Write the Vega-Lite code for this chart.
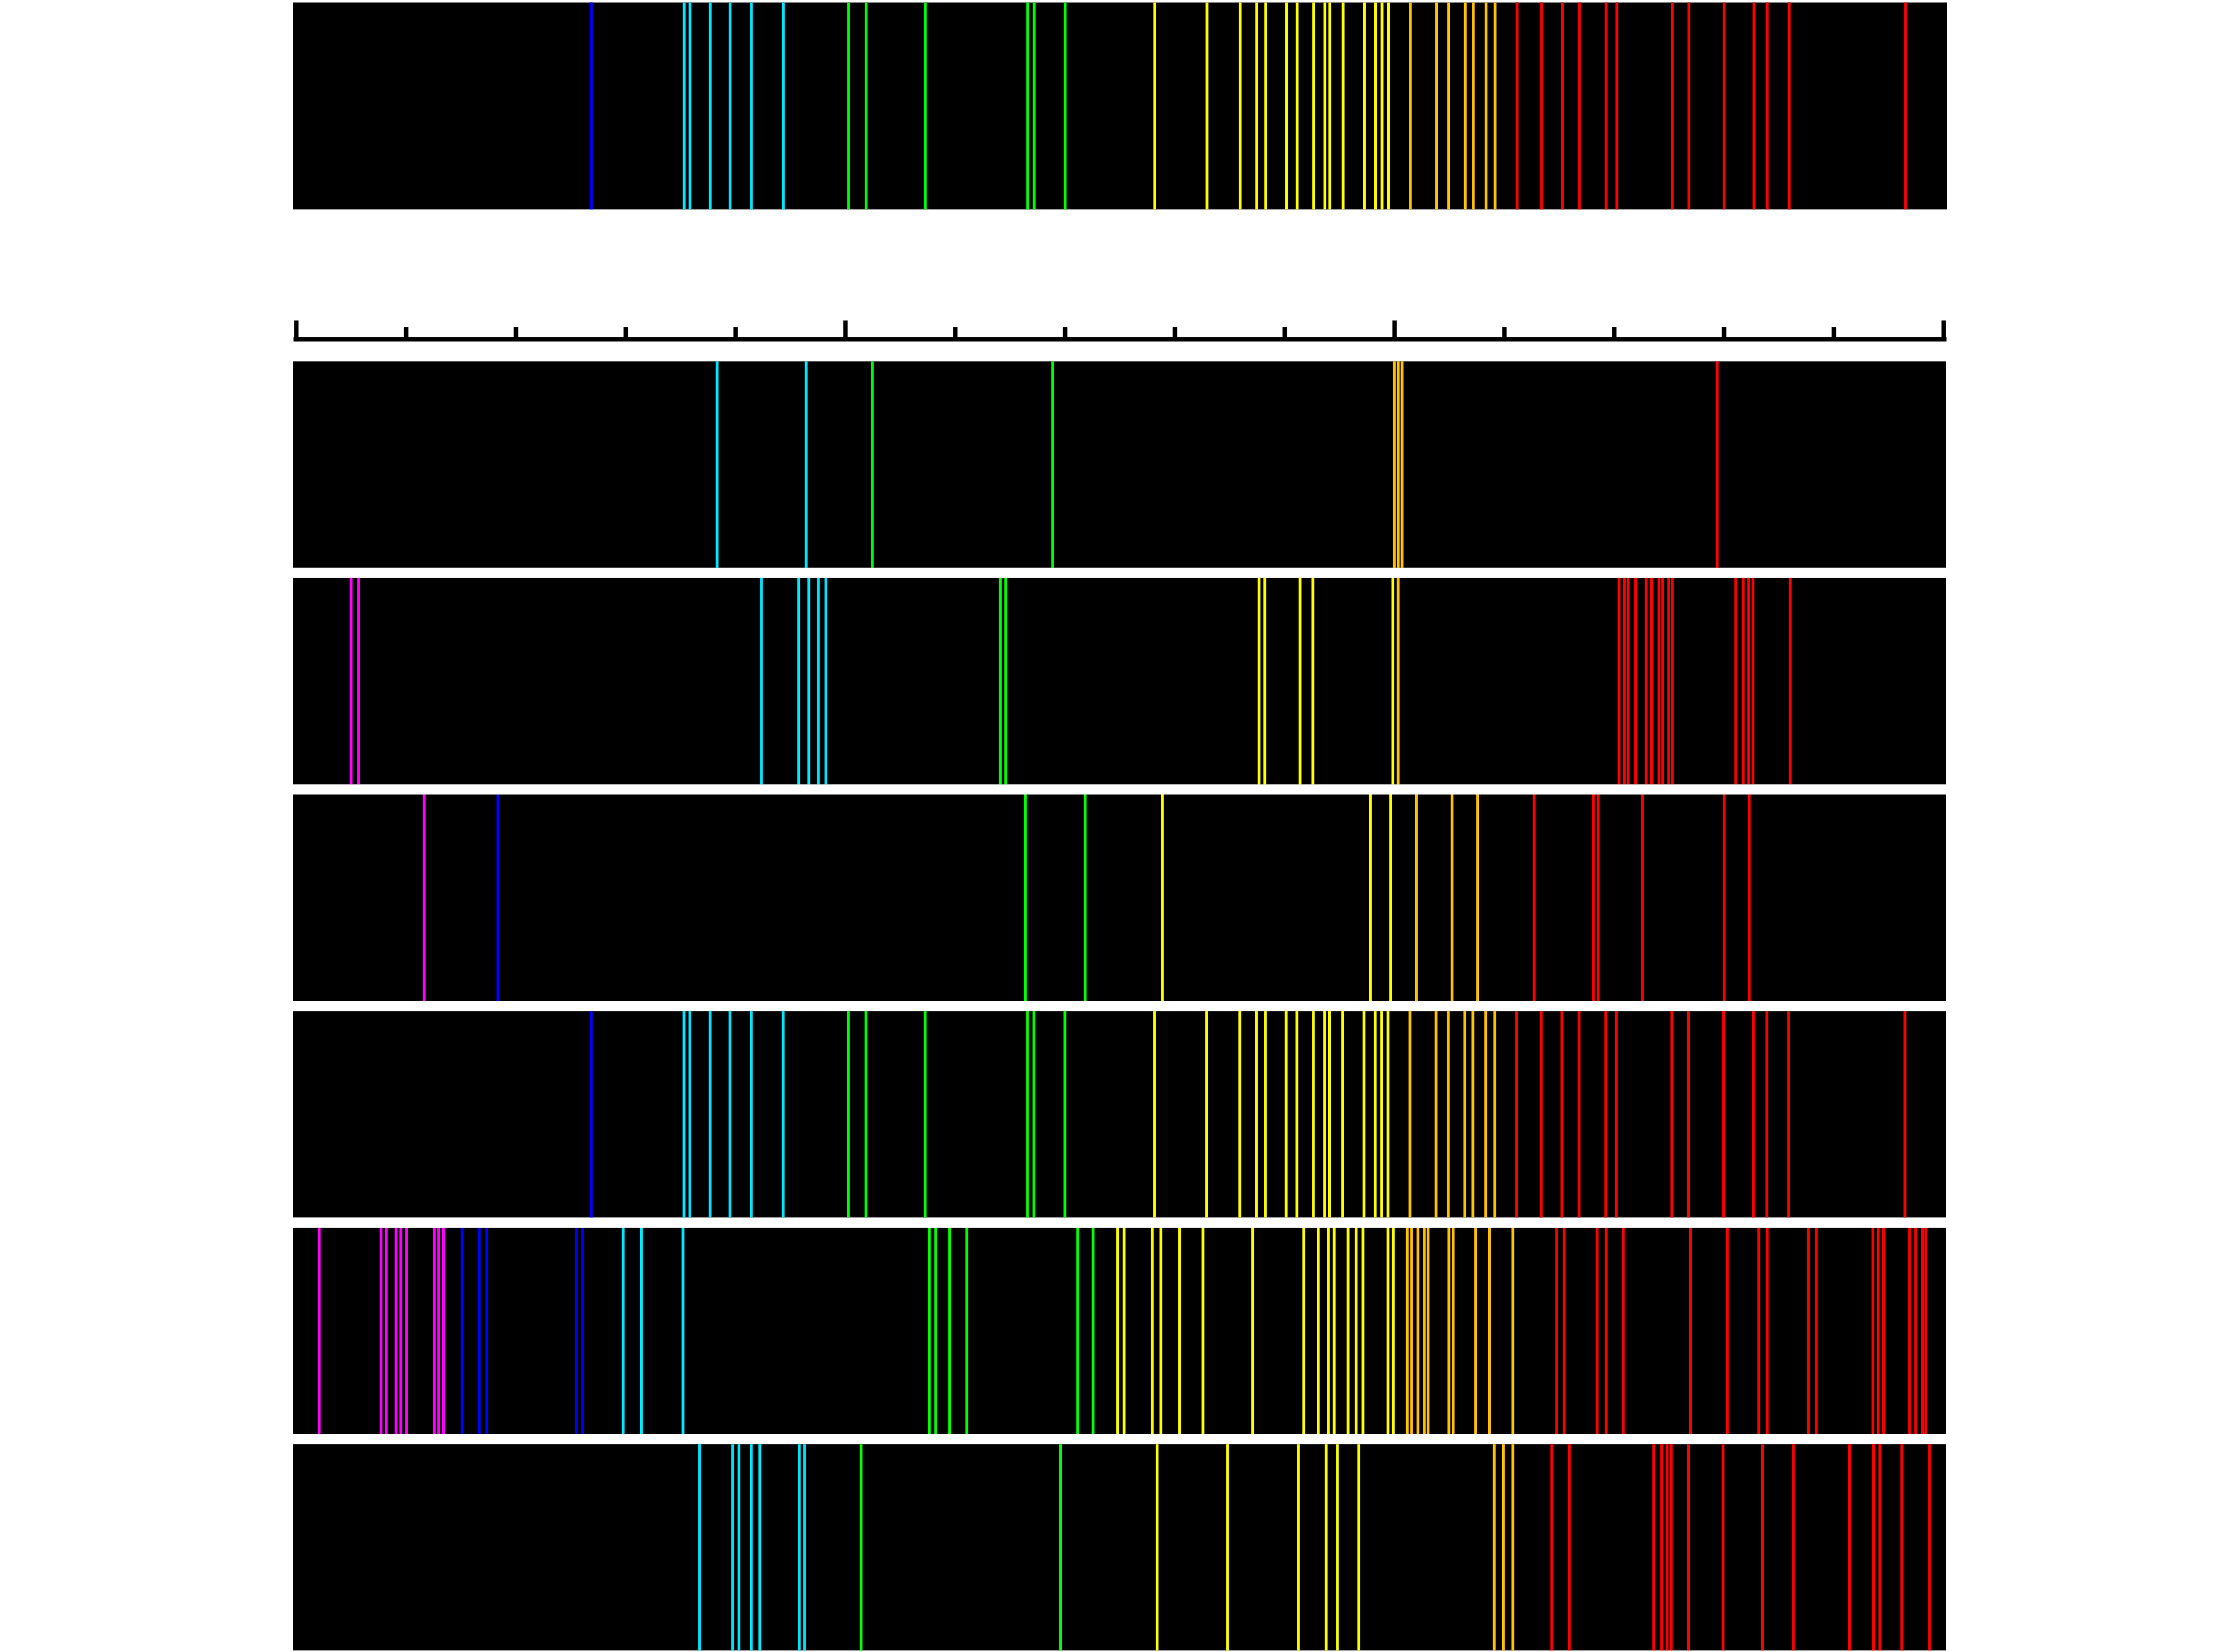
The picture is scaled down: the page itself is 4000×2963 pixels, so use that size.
{
  "$schema": "https://vega.github.io/schema/vega-lite/v6.json",
  "background": "white",
  "padding": {"left": 526, "top": 1.5, "right": 0, "bottom": 0},
  "bounds": "flush",
  "spacing": 18.4,
  "config": {
    "view": {"fill": "black", "stroke": null},
    "rule": {"strokeWidth": 5, "strokeCap": "butt"}
  },
  "datasets": {
    "lines": [
      {"spectrum": "A", "wavelength": 476.64}, {"spectrum": "A", "wavelength": 492.87}, {"spectrum": "A", "wavelength": 504.91}, {"spectrum": "A", "wavelength": 537.75},
      {"spectrum": "A", "wavelength": 600.0}, {"spectrum": "A", "wavelength": 600.7}, {"spectrum": "A", "wavelength": 601.4}, {"spectrum": "A", "wavelength": 658.78},

      {"spectrum": "B", "wavelength": 410.0}, {"spectrum": "B", "wavelength": 411.36}, {"spectrum": "B", "wavelength": 484.71}, {"spectrum": "B", "wavelength": 491.51},
      {"spectrum": "B", "wavelength": 493.35}, {"spectrum": "B", "wavelength": 495.1}, {"spectrum": "B", "wavelength": 496.46}, {"spectrum": "B", "wavelength": 528.23},
      {"spectrum": "B", "wavelength": 529.2}, {"spectrum": "B", "wavelength": 575.34}, {"spectrum": "B", "wavelength": 576.4}, {"spectrum": "B", "wavelength": 582.82},
      {"spectrum": "B", "wavelength": 585.15}, {"spectrum": "B", "wavelength": 599.72}, {"spectrum": "B", "wavelength": 600.69}, {"spectrum": "B", "wavelength": 640.91},
      {"spectrum": "B", "wavelength": 641.88}, {"spectrum": "B", "wavelength": 642.56}, {"spectrum": "B", "wavelength": 643.92}, {"spectrum": "B", "wavelength": 645.86},
      {"spectrum": "B", "wavelength": 646.83}, {"spectrum": "B", "wavelength": 648.19}, {"spectrum": "B", "wavelength": 648.87}, {"spectrum": "B", "wavelength": 649.94},
      {"spectrum": "B", "wavelength": 650.62}, {"spectrum": "B", "wavelength": 662.18}, {"spectrum": "B", "wavelength": 663.54}, {"spectrum": "B", "wavelength": 664.52},
      {"spectrum": "B", "wavelength": 665.29}, {"spectrum": "B", "wavelength": 672.09},

      {"spectrum": "C", "wavelength": 423.31}, {"spectrum": "C", "wavelength": 436.72}, {"spectrum": "C", "wavelength": 532.79}, {"spectrum": "C", "wavelength": 543.67},
      {"spectrum": "C", "wavelength": 557.75}, {"spectrum": "C", "wavelength": 595.64}, {"spectrum": "C", "wavelength": 599.33}, {"spectrum": "C", "wavelength": 603.99},
      {"spectrum": "C", "wavelength": 610.5}, {"spectrum": "C", "wavelength": 615.17}, {"spectrum": "C", "wavelength": 625.46}, {"spectrum": "C", "wavelength": 636.25},
      {"spectrum": "C", "wavelength": 637.12}, {"spectrum": "C", "wavelength": 645.18}, {"spectrum": "C", "wavelength": 660.05}, {"spectrum": "C", "wavelength": 664.61},

      {"spectrum": "D", "wavelength": 453.72}, {"spectrum": "D", "wavelength": 470.62}, {"spectrum": "D", "wavelength": 471.69}, {"spectrum": "D", "wavelength": 475.38},
      {"spectrum": "D", "wavelength": 478.98}, {"spectrum": "D", "wavelength": 482.86}, {"spectrum": "D", "wavelength": 488.69}, {"spectrum": "D", "wavelength": 500.54},
      {"spectrum": "D", "wavelength": 503.75}, {"spectrum": "D", "wavelength": 514.53}, {"spectrum": "D", "wavelength": 533.18}, {"spectrum": "D", "wavelength": 534.35},
      {"spectrum": "D", "wavelength": 539.98}, {"spectrum": "D", "wavelength": 556.3}, {"spectrum": "D", "wavelength": 565.81}, {"spectrum": "D", "wavelength": 571.84},
      {"spectrum": "D", "wavelength": 574.85}, {"spectrum": "D", "wavelength": 576.5}, {"spectrum": "D", "wavelength": 580.29}, {"spectrum": "D", "wavelength": 582.23},
      {"spectrum": "D", "wavelength": 585.24}, {"spectrum": "D", "wavelength": 587.28}, {"spectrum": "D", "wavelength": 588.16}, {"spectrum": "D", "wavelength": 590.59},
      {"spectrum": "D", "wavelength": 594.47}, {"spectrum": "D", "wavelength": 596.51}, {"spectrum": "D", "wavelength": 597.68}, {"spectrum": "D", "wavelength": 598.84},
      {"spectrum": "D", "wavelength": 602.83}, {"spectrum": "D", "wavelength": 607.59}, {"spectrum": "D", "wavelength": 609.82}, {"spectrum": "D", "wavelength": 612.83},
      {"spectrum": "D", "wavelength": 614.29}, {"spectrum": "D", "wavelength": 616.62}, {"spectrum": "D", "wavelength": 618.27}, {"spectrum": "D", "wavelength": 622.26},
      {"spectrum": "D", "wavelength": 626.73}, {"spectrum": "D", "wavelength": 630.51}, {"spectrum": "D", "wavelength": 633.62}, {"spectrum": "D", "wavelength": 638.48},
      {"spectrum": "D", "wavelength": 640.42}, {"spectrum": "D", "wavelength": 650.53}, {"spectrum": "D", "wavelength": 653.54}, {"spectrum": "D", "wavelength": 659.95},
      {"spectrum": "D", "wavelength": 665.39}, {"spectrum": "D", "wavelength": 667.82}, {"spectrum": "D", "wavelength": 671.8}, {"spectrum": "D", "wavelength": 692.98},

      {"spectrum": "E", "wavelength": 404.17}, {"spectrum": "E", "wavelength": 415.44}, {"spectrum": "E", "wavelength": 416.41}, {"spectrum": "E", "wavelength": 418.16},
      {"spectrum": "E", "wavelength": 419.04}, {"spectrum": "E", "wavelength": 420.11}, {"spectrum": "E", "wavelength": 425.16}, {"spectrum": "E", "wavelength": 425.93},
      {"spectrum": "E", "wavelength": 426.81}, {"spectrum": "E", "wavelength": 430.21}, {"spectrum": "E", "wavelength": 433.32}, {"spectrum": "E", "wavelength": 434.68},
      {"spectrum": "E", "wavelength": 451.0}, {"spectrum": "E", "wavelength": 452.16}, {"spectrum": "E", "wavelength": 459.55}, {"spectrum": "E", "wavelength": 462.85},
      {"spectrum": "E", "wavelength": 470.43}, {"spectrum": "E", "wavelength": 515.31}, {"spectrum": "E", "wavelength": 516.47}, {"spectrum": "E", "wavelength": 519.0},
      {"spectrum": "E", "wavelength": 522.11}, {"spectrum": "E", "wavelength": 542.31}, {"spectrum": "E", "wavelength": 545.13}, {"spectrum": "E", "wavelength": 549.59},
      {"spectrum": "E", "wavelength": 550.76}, {"spectrum": "E", "wavelength": 555.91}, {"spectrum": "E", "wavelength": 557.46}, {"spectrum": "E", "wavelength": 560.86},
      {"spectrum": "E", "wavelength": 565.14}, {"spectrum": "E", "wavelength": 574.17}, {"spectrum": "E", "wavelength": 583.5}, {"spectrum": "E", "wavelength": 586.12},
      {"spectrum": "E", "wavelength": 587.96}, {"spectrum": "E", "wavelength": 589.03}, {"spectrum": "E", "wavelength": 591.56}, {"spectrum": "E", "wavelength": 593.02},
      {"spectrum": "E", "wavelength": 594.28}, {"spectrum": "E", "wavelength": 598.84}, {"spectrum": "E", "wavelength": 599.8}, {"spectrum": "E", "wavelength": 602.34},
      {"spectrum": "E", "wavelength": 603.12}, {"spectrum": "E", "wavelength": 604.28}, {"spectrum": "E", "wavelength": 605.45}, {"spectrum": "E", "wavelength": 606.13},
      {"spectrum": "E", "wavelength": 609.92}, {"spectrum": "E", "wavelength": 610.7}, {"spectrum": "E", "wavelength": 614.78}, {"spectrum": "E", "wavelength": 617.3},
      {"spectrum": "E", "wavelength": 621.58}, {"spectrum": "E", "wavelength": 629.54}, {"spectrum": "E", "wavelength": 630.9}, {"spectrum": "E", "wavelength": 636.93},
      {"spectrum": "E", "wavelength": 638.58}, {"spectrum": "E", "wavelength": 641.69}, {"spectrum": "E", "wavelength": 653.93}, {"spectrum": "E", "wavelength": 660.63},
      {"spectrum": "E", "wavelength": 666.36}, {"spectrum": "E", "wavelength": 667.91}, {"spectrum": "E", "wavelength": 675.4}, {"spectrum": "E", "wavelength": 676.85},
      {"spectrum": "E", "wavelength": 687.15}, {"spectrum": "E", "wavelength": 688.12}, {"spectrum": "E", "wavelength": 689.09}, {"spectrum": "E", "wavelength": 693.85},
      {"spectrum": "E", "wavelength": 694.92}, {"spectrum": "E", "wavelength": 696.18}, {"spectrum": "E", "wavelength": 696.77},

      {"spectrum": "F", "wavelength": 473.44}, {"spectrum": "F", "wavelength": 479.46}, {"spectrum": "F", "wavelength": 480.63}, {"spectrum": "F", "wavelength": 482.86},
      {"spectrum": "F", "wavelength": 484.42}, {"spectrum": "F", "wavelength": 491.61}, {"spectrum": "F", "wavelength": 492.58}, {"spectrum": "F", "wavelength": 502.87},
      {"spectrum": "F", "wavelength": 539.21}, {"spectrum": "F", "wavelength": 556.78}, {"spectrum": "F", "wavelength": 569.6}, {"spectrum": "F", "wavelength": 582.52},
      {"spectrum": "F", "wavelength": 587.58}, {"spectrum": "F", "wavelength": 589.62}, {"spectrum": "F", "wavelength": 593.5}, {"spectrum": "F", "wavelength": 618.18},
      {"spectrum": "F", "wavelength": 619.83}, {"spectrum": "F", "wavelength": 621.58}, {"spectrum": "F", "wavelength": 628.67}, {"spectrum": "F", "wavelength": 631.87},
      {"spectrum": "F", "wavelength": 647.22}, {"spectrum": "F", "wavelength": 648.68}, {"spectrum": "F", "wavelength": 649.65}, {"spectrum": "F", "wavelength": 650.43},
      {"spectrum": "F", "wavelength": 653.54}, {"spectrum": "F", "wavelength": 659.85}, {"spectrum": "F", "wavelength": 667.04}, {"spectrum": "F", "wavelength": 672.67},
      {"spectrum": "F", "wavelength": 682.87}, {"spectrum": "F", "wavelength": 687.25}, {"spectrum": "F", "wavelength": 688.41}, {"spectrum": "F", "wavelength": 692.4},
      {"spectrum": "F", "wavelength": 697.45}
    ]
  },
  "vconcat": [
    {
      "data": {"name": "lines"},
      "transform": [{"filter": "datum.spectrum === 'D'"}],
      "width": 2966, "height": 371,
      "mark": "rule",
      "encoding": {
        "x": {"field": "wavelength", "type": "quantitative", "scale": {"domain": [399.45, 700.5], "nice": false, "zero": false}, "axis": null},
        "color": {"field": "wavelength", "type": "quantitative", "legend": null,
          "scale": {"type": "threshold", "domain": [428, 456, 500, 548, 600, 622], "range": ["#ff00ff", "#0000ff", "#00e5ff", "#00ff00", "#ffff00", "#ffc000", "#ff0000"]}}
      }
    },
    {
      "data": {"values": []},
      "view": {"fill": null, "stroke": null},
      "width": 2965, "height": 235.9,
      "mark": "rule",
      "encoding": {
        "x": {"field": "wavelength", "type": "quantitative",
          "scale": {"domain": [399.45, 700.5], "nice": false, "zero": false},
          "axis": {
            "orient": "top", "offset": -214.1, "title": null, "labels": false, "grid": false,
            "values": [400, 420, 440, 460, 480, 500, 520, 540, 560, 580, 600, 620, 640, 660, 680, 700],
            "domainColor": "black", "domainWidth": 8,
            "tickColor": "black", "tickWidth": 8,
            "tickSize": {"condition": {"test": "datum.value % 100 === 0", "value": 33.8}, "value": 21.8}
          }
        }
      }
    },
    {
      "data": {"name": "lines"},
      "transform": [{"filter": "datum.spectrum === 'A'"}],
      "width": 2965, "height": 370,
      "mark": "rule",
      "encoding": {
        "x": {"field": "wavelength", "type": "quantitative", "scale": {"domain": [399.45, 700.5], "nice": false, "zero": false}, "axis": null},
        "color": {"field": "wavelength", "type": "quantitative", "legend": null,
          "scale": {"type": "threshold", "domain": [428, 456, 500, 548, 600, 622], "range": ["#ff00ff", "#0000ff", "#00e5ff", "#00ff00", "#ffff00", "#ffc000", "#ff0000"]}}
      }
    },
    {
      "data": {"name": "lines"},
      "transform": [{"filter": "datum.spectrum === 'B'"}],
      "width": 2965, "height": 370,
      "mark": "rule",
      "encoding": {
        "x": {"field": "wavelength", "type": "quantitative", "scale": {"domain": [399.45, 700.5], "nice": false, "zero": false}, "axis": null},
        "color": {"field": "wavelength", "type": "quantitative", "legend": null,
          "scale": {"type": "threshold", "domain": [428, 456, 500, 548, 600, 622], "range": ["#ff00ff", "#0000ff", "#00e5ff", "#00ff00", "#ffff00", "#ffc000", "#ff0000"]}}
      }
    },
    {
      "data": {"name": "lines"},
      "transform": [{"filter": "datum.spectrum === 'C'"}],
      "width": 2965, "height": 370,
      "mark": "rule",
      "encoding": {
        "x": {"field": "wavelength", "type": "quantitative", "scale": {"domain": [399.45, 700.5], "nice": false, "zero": false}, "axis": null},
        "color": {"field": "wavelength", "type": "quantitative", "legend": null,
          "scale": {"type": "threshold", "domain": [428, 456, 500, 548, 600, 622], "range": ["#ff00ff", "#0000ff", "#00e5ff", "#00ff00", "#ffff00", "#ffc000", "#ff0000"]}}
      }
    },
    {
      "data": {"name": "lines"},
      "transform": [{"filter": "datum.spectrum === 'D'"}],
      "width": 2965, "height": 370,
      "mark": "rule",
      "encoding": {
        "x": {"field": "wavelength", "type": "quantitative", "scale": {"domain": [399.45, 700.5], "nice": false, "zero": false}, "axis": null},
        "color": {"field": "wavelength", "type": "quantitative", "legend": null,
          "scale": {"type": "threshold", "domain": [428, 456, 500, 548, 600, 622], "range": ["#ff00ff", "#0000ff", "#00e5ff", "#00ff00", "#ffff00", "#ffc000", "#ff0000"]}}
      }
    },
    {
      "data": {"name": "lines"},
      "transform": [{"filter": "datum.spectrum === 'E'"}],
      "width": 2965, "height": 370,
      "mark": "rule",
      "encoding": {
        "x": {"field": "wavelength", "type": "quantitative", "scale": {"domain": [399.45, 700.5], "nice": false, "zero": false}, "axis": null},
        "color": {"field": "wavelength", "type": "quantitative", "legend": null,
          "scale": {"type": "threshold", "domain": [428, 456, 500, 548, 600, 622], "range": ["#ff00ff", "#0000ff", "#00e5ff", "#00ff00", "#ffff00", "#ffc000", "#ff0000"]}}
      }
    },
    {
      "data": {"name": "lines"},
      "transform": [{"filter": "datum.spectrum === 'F'"}],
      "width": 2965, "height": 370,
      "mark": "rule",
      "encoding": {
        "x": {"field": "wavelength", "type": "quantitative", "scale": {"domain": [399.45, 700.5], "nice": false, "zero": false}, "axis": null},
        "color": {"field": "wavelength", "type": "quantitative", "legend": null,
          "scale": {"type": "threshold", "domain": [428, 456, 500, 548, 600, 622], "range": ["#ff00ff", "#0000ff", "#00e5ff", "#00ff00", "#ffff00", "#ffc000", "#ff0000"]}}
      }
    }
  ]
}
